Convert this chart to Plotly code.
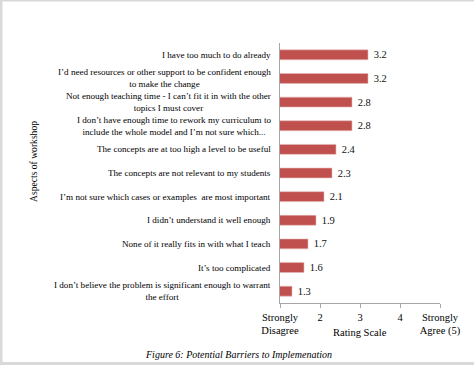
import plotly.graph_objects as go

categories = [
    "I have too much to do already",
    "I’d need resources or other support to be confident enough<br>to make the change",
    "Not enough teaching time - I can’t fit it in with the other<br>topics I must cover",
    "I don’t have enough time to rework my curriculum to<br>include the whole model and I’m not sure which...",
    "The concepts are at too high a level to be useful",
    "The concepts are not relevant to my students",
    "I’m not sure which cases or examples  are most important",
    "I didn’t understand it well enough",
    "None of it really fits in with what I teach",
    "It’s too complicated",
    "I don’t believe the problem is significant enough to warrant<br>the effort",
]
values = [3.2, 3.2, 2.8, 2.8, 2.4, 2.3, 2.1, 1.9, 1.7, 1.6, 1.3]
tick_vals = [1, 2, 3, 4, 5]
tick_text = ["Strongly<br>Disagree", "2", "3", "4", "Strongly<br>Agree (5)"]

W, H = 474, 365
ML, MR, MT, MB = 280, 34, 43, 62
PW, PH = W - ML - MR, H - MT - MB

def px2x(px):
    return (px - ML) / PW

def py2y(py):
    return (H - MB - py) / PH

FONT = "Liberation Serif, Times New Roman, serif"
ids = list(range(len(categories)))

fig = go.Figure()
fig.add_trace(go.Bar(
    y=ids, x=values, orientation="h",
    marker=dict(color="#C0504D", line=dict(color="#E6B9B8", width=0.6)),
    width=0.42,
    text=[f" {v:.1f}" for v in values], textposition="outside",
    constraintext="none",
    textfont=dict(family=FONT, size=10.5, color="#111"),
    cliponaxis=False,
))

annotations = []
for i, c in zip(ids, categories):
    annotations.append(dict(
        x=0, xref="paper", y=i, yref="y", text=c, showarrow=False,
        xanchor="right", yanchor="middle", align="center", xshift=-7,
        font=dict(family=FONT, size=9.1, color="#000"),
    ))
annotations.append(dict(
    x=px2x(33), xref="paper", y=py2y(162), yref="paper", text="Aspects of workshop",
    textangle=-90, showarrow=False, xanchor="center", yanchor="middle",
    font=dict(family=FONT, size=9.6, color="#000"),
))
annotations.append(dict(
    x=3, xref="x", y=py2y(332), yref="paper", text="Rating Scale",
    showarrow=False, xanchor="center", yanchor="middle",
    font=dict(family=FONT, size=10.5, color="#000"),
))
annotations.append(dict(
    x=px2x(238), xref="paper", y=py2y(354), yref="paper",
    text="<i>Figure 6: Potential Barriers to Implemenation</i>",
    showarrow=False, xanchor="center", yanchor="middle",
    font=dict(family=FONT, size=10, color="#000"),
))

gray = "#D9D9D9"
shapes = [
    dict(type="rect", xref="paper", yref="paper", x0=px2x(0), x1=px2x(W), y0=py2y(0), y1=py2y(1.5),
         fillcolor=gray, line=dict(width=0), layer="below"),
    dict(type="rect", xref="paper", yref="paper", x0=px2x(0), x1=px2x(2.5), y0=py2y(0), y1=py2y(H),
         fillcolor=gray, line=dict(width=0), layer="below"),
    dict(type="rect", xref="paper", yref="paper", x0=px2x(0), x1=px2x(W), y0=py2y(362), y1=py2y(H),
         fillcolor=gray, line=dict(width=0), layer="below"),
]

fig.update_layout(
    width=W, height=H,
    margin=dict(l=ML, r=MR, t=MT, b=MB, pad=0),
    paper_bgcolor="white", plot_bgcolor="white",
    showlegend=False,
    annotations=annotations, shapes=shapes,
    xaxis=dict(range=[1, 5], tickvals=tick_vals, ticktext=tick_text,
               showgrid=False, zeroline=False, showline=True, linecolor="#A6A6A6",
               ticks="outside", ticklen=4, tickcolor="#A6A6A6",
               tickfont=dict(family=FONT, size=10.5, color="#000"), fixedrange=True),
    yaxis=dict(range=[len(categories) - 0.5, -0.5], showticklabels=False,
               showgrid=False, zeroline=False, showline=True, linecolor="#A6A6A6",
               ticks="", fixedrange=True),
)

fig.write_html("out.html", config={"displayModeBar": False},
               post_script="document.body.style.margin='0px';document.body.style.overflow='hidden';")
